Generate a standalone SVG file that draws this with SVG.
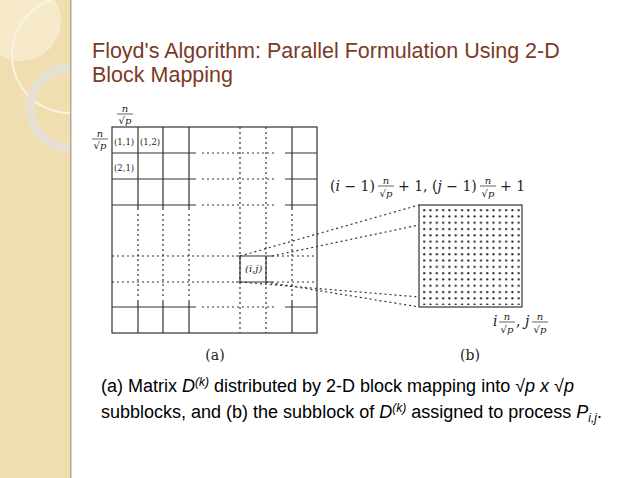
<svg xmlns="http://www.w3.org/2000/svg" width="638" height="478" viewBox="0 0 638 478">
<style>
.s{stroke:#333;stroke-width:1.2;fill:none}
.d{stroke:#333;stroke-width:1.2;fill:none;stroke-dasharray:2 3}
.m{font-family:'DejaVu Serif','Liberation Serif',serif;font-size:10px;fill:#222}
.cl{font-family:'DejaVu Serif','Liberation Serif',serif;font-size:8.5px;fill:#222}
.mi{font-family:'DejaVu Serif','Liberation Serif',serif;font-size:14px;fill:#222}
.t{font-family:'Liberation Sans',Arial,sans-serif;font-size:21.5px;fill:#7b3a26}
.c{font-family:'Liberation Sans',Arial,sans-serif;font-size:18px;fill:#000}
</style>
<defs>
<pattern id="dots" x="423" y="209" width="6.3" height="6.3" patternUnits="userSpaceOnUse"><circle cx="1.2" cy="1.2" r="1.1" fill="#222"/></pattern>
<clipPath id="bc"><rect width="70" height="478"/></clipPath>
</defs>
<rect width="638" height="478" fill="#fff"/>
<g id="band">
<rect width="70" height="478" fill="#f1deb0"/>
<rect x="70" width="1.5" height="478" fill="#b9a98a"/>
<g clip-path="url(#bc)">
<path d="M0 0 H55 A40 40 0 0 1 0 55 Z" fill="#f7ecd2" opacity="0.8"/>
<circle cx="70" cy="55" r="58" fill="none" stroke="#f8f2e4" stroke-width="2"/>
<circle cx="70" cy="108" r="40" fill="none" stroke="#e6e0d2" stroke-width="9"/>
</g>
</g>
<g id="title">
<text class="t" x="92" y="58">Floyd's Algorithm: Parallel Formulation Using 2-D</text>
<text class="t" x="92" y="82">Block Mapping</text>
</g>
<g id="grid">
<rect class="s" x="112" y="127" width="205" height="206"/>
<path class="s" d="M112 153H196M112 179H196M112 205H196M112 307H196M285 153H317M285 179H317M285 205H317M285 307H317"/>
<path class="d" d="M202 153H277M202 179H277M202 205H277M202 307H277M112 256H236M112 282H236M272 256H317M272 282H317"/>
<path class="s" d="M138 127V210M163 127V210M189 127V210M292 127V210M138 300V333M163 300V333M189 300V333M292 300V333"/>
<path class="d" d="M138 214V296M163 214V296M189 214V296M292 214V296M240 127V333M266 127V333"/>
<path class="s" d="M236 256H272M236 282H272M240 256V282M266 256V282"/>
<text class="cl" x="114" y="145">(1,1)</text>
<text class="cl" x="140" y="145">(1,2)</text>
<text class="cl" x="114" y="171">(2,1)</text>
<text class="m" x="245" y="272" font-size="7" font-style="italic">(i,j)</text>
<text class="m" x="125" y="112" font-style="italic" text-anchor="middle">n</text>
<line x1="117" y1="114" x2="133" y2="114" stroke="#222" stroke-width="0.7"/>
<text class="m" x="125" y="124" text-anchor="middle">√<tspan font-style="italic">p</tspan></text>
<text class="m" x="100" y="137" font-style="italic" text-anchor="middle">n</text>
<line x1="92" y1="139" x2="108" y2="139" stroke="#222" stroke-width="0.7"/>
<text class="m" x="100" y="149" text-anchor="middle">√<tspan font-style="italic">p</tspan></text>
</g>
<g id="block">
<rect class="s" x="419" y="205" width="103" height="102"/>
<rect x="422" y="208" width="98" height="97" fill="url(#dots)"/>
<text class="mi" x="330" y="191">(<tspan font-style="italic">i</tspan> − 1)</text>
<text class="m" x="386" y="184" font-style="italic" text-anchor="middle">n</text>
<line x1="378" y1="186" x2="394" y2="186" stroke="#222" stroke-width="0.7"/>
<text class="m" x="386" y="197" text-anchor="middle">√<tspan font-style="italic">p</tspan></text>
<text class="mi" x="398" y="191">+ 1, (<tspan font-style="italic">j</tspan> − 1)</text>
<text class="m" x="488" y="184" font-style="italic" text-anchor="middle">n</text>
<line x1="480" y1="186" x2="496" y2="186" stroke="#222" stroke-width="0.7"/>
<text class="m" x="488" y="197" text-anchor="middle">√<tspan font-style="italic">p</tspan></text>
<text class="mi" x="500" y="191">+ 1</text>
<text class="mi" x="493" y="326" font-style="italic">i</text>
<text class="m" x="507" y="320" font-style="italic" text-anchor="middle">n</text>
<line x1="499" y1="322" x2="515" y2="322" stroke="#222" stroke-width="0.7"/>
<text class="m" x="507" y="333" text-anchor="middle">√<tspan font-style="italic">p</tspan></text>
<text class="mi" x="516" y="326">, <tspan font-style="italic">j</tspan></text>
<text class="m" x="540" y="320" font-style="italic" text-anchor="middle">n</text>
<line x1="532" y1="322" x2="548" y2="322" stroke="#222" stroke-width="0.7"/>
<text class="m" x="540" y="333" text-anchor="middle">√<tspan font-style="italic">p</tspan></text>
</g>
<g id="connectors">
<path class="d" d="M240 256L419 205M272 256L419 225M240 282L419 297M266 282L419 307"/>
</g>
<g id="labels">
<text class="mi" x="215" y="360" font-size="15" text-anchor="middle">(a)</text>
<text class="mi" x="470" y="360" font-size="15" text-anchor="middle">(b)</text>
</g>
<g id="caption">
<text class="c" x="101" y="392">(a) Matrix <tspan font-style="italic">D</tspan><tspan font-style="italic" font-size="12" dy="-6">(k)</tspan><tspan dy="6"> distributed by 2-D block mapping into √</tspan><tspan font-style="italic">p  x </tspan>√<tspan font-style="italic">p</tspan></text>
<text class="c" x="101" y="418">subblocks, and (b) the subblock of <tspan font-style="italic">D</tspan><tspan font-style="italic" font-size="12" dy="-6">(k)</tspan><tspan dy="6"> assigned to process </tspan><tspan font-style="italic">P</tspan><tspan font-style="italic" font-size="12" dy="4">i,j</tspan><tspan dy="-4">.</tspan></text>
</g>
</svg>
